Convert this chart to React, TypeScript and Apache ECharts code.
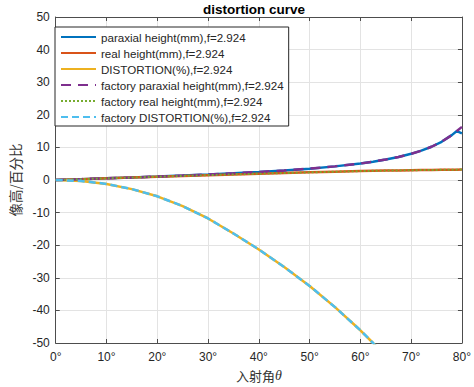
import React, { useEffect, useRef } from "react";
import * as echarts from "echarts";

// incidence angle (degrees)
const angles = [0, 5, 10, 15, 20, 25, 30, 35, 40, 45, 50, 55, 60, 62.5, 65, 67.5, 70, 72, 74, 76, 78, 79, 80];
// paraxial height (mm)
const paraxialHeight = [0, 0.26, 0.52, 0.78, 1.06, 1.36, 1.69, 2.05, 2.45, 2.92, 3.48, 4.18, 5.06, 5.62, 6.27, 7.06, 8.03, 9.0, 10.2, 11.73, 13.76, 15.0, 14.3];
// real height (mm)
const realHeight = [0, 0.26, 0.51, 0.76, 1.01, 1.25, 1.49, 1.71, 1.93, 2.14, 2.35, 2.55, 2.73, 2.81, 2.88, 2.94, 3.0, 3.04, 3.08, 3.12, 3.16, 3.18, 3.2];
// distortion (%)
const distortion = [0, -0.3, -1.2, -2.8, -5.0, -8.0, -11.8, -16.4, -21.3, -26.7, -32.5, -39.0, -46.1, -50.0, -54.1, -58.4, -62.7, -66.2, -69.8, -73.4, -77.0, -78.8, -80.5];
// factory data
const factoryParaxial = [0, 0.26, 0.52, 0.78, 1.06, 1.36, 1.69, 2.05, 2.45, 2.92, 3.48, 4.18, 5.06, 5.62, 6.27, 7.06, 8.03, 9.0, 10.2, 11.73, 13.76, 15.04, 16.3];
const factoryReal = [0, 0.26, 0.51, 0.76, 1.01, 1.25, 1.49, 1.71, 1.93, 2.14, 2.35, 2.55, 2.73, 2.81, 2.88, 2.94, 3.0, 3.04, 3.08, 3.12, 3.16, 3.18, 3.2];
const factoryDistortion = [0, -0.3, -1.2, -2.8, -5.0, -8.0, -11.8, -16.4, -21.3, -26.7, -32.5, -39.0, -46.1, -50.0, -54.1, -58.4, -62.7, -66.2, -69.8, -73.4, -77.0, -78.8, -80.5];

const seriesNames = [
  "paraxial height(mm),f=2.924",
  "real height(mm),f=2.924",
  "DISTORTION(%),f=2.924",
  "factory paraxial height(mm),f=2.924",
  "factory real height(mm),f=2.924",
  "factory DISTORTION(%),f=2.924",
];

const FONT = "'Liberation Sans', Arial, sans-serif";
const AX = "#4d4d4d";
const GRID = "#e3e3e3";

export default function App() {
  const ref = useRef<HTMLDivElement>(null);
  useEffect(() => {
    if (!ref.current) return;
    const chart = echarts.init(ref.current, null, { renderer: "svg" });
    const pair = (vals: number[]) => angles.map((a, i) => [a, vals[i]]);
    const mk = (name: string, vals: number[], color: string, width: number, type: any) => ({
      name,
      type: "line",
      data: pair(vals),
      symbol: "none",
      smooth: false,
      clip: true,
      lineStyle: { color, width, type, cap: "butt" },
      itemStyle: { color },
    });
    const baseAxis = {
      type: "value",
      axisLine: { show: true, onZero: false, lineStyle: { color: AX, width: 1 } },
      axisTick: { show: true, inside: true, length: 4, lineStyle: { color: AX } },
    };
    chart.setOption({
      animation: false,
      backgroundColor: "#ffffff",
      title: {
        text: "distortion curve",
        left: 254,
        textAlign: "center",
        top: 2,
        padding: 0,
        textStyle: { fontFamily: FONT, fontSize: 13.5, fontWeight: "bold", color: "#000" },
      },
      legend: {
        orient: "vertical",
        left: 55,
        top: 27,
        padding: [3, 5, 2, 5],
        itemWidth: 35,
        itemHeight: 14,
        itemGap: 2,
        backgroundColor: "#ffffff",
        borderColor: "#262626",
        borderWidth: 1,
        borderRadius: 0,
        itemStyle: { opacity: 0 },
        textStyle: { fontFamily: FONT, fontSize: 11.6, color: "#262626", lineHeight: 14 },
        data: seriesNames,
      },
      grid: { left: 45, right: 11, top: 17, bottom: 41, containLabel: false },
      xAxis: [
        {
          ...baseAxis,
          position: "bottom",
          min: 0,
          max: 80,
          interval: 10,
          axisLabel: { formatter: (v: number) => `${v}°`, fontFamily: FONT, fontSize: 12, color: "#262626", margin: 8 },
          splitLine: { show: true, lineStyle: { color: GRID, width: 1 } },
          name: "{a|入射角}{b|θ}",
          nameLocation: "middle",
          nameGap: 25,
          nameTextStyle: {
            rich: {
              a: { fontFamily: "'Noto Sans CJK SC'", fontSize: 13, color: "#333" },
              b: { fontFamily: "'Liberation Serif', serif", fontStyle: "italic", fontSize: 14, color: "#333" },
            },
          },
        },
        {
          ...baseAxis,
          position: "top",
          min: 0,
          max: 80,
          interval: 10,
          axisLabel: { show: false },
          splitLine: { show: false },
        },
      ],
      yAxis: [
        {
          ...baseAxis,
          position: "left",
          min: -50,
          max: 50,
          interval: 10,
          axisLabel: { fontFamily: FONT, fontSize: 12, color: "#262626", margin: 6 },
          splitLine: { show: true, lineStyle: { color: GRID, width: 1 } },
          name: "像高/百分比",
          nameLocation: "middle",
          nameGap: 26,
          nameRotate: 90,
          nameTextStyle: { fontFamily: "'Noto Sans CJK SC'", fontSize: 13.5, color: "#333" },
        },
        {
          ...baseAxis,
          position: "right",
          min: -50,
          max: 50,
          interval: 10,
          axisLabel: { show: false },
          splitLine: { show: false },
        },
      ],
      series: [
        mk(seriesNames[0], paraxialHeight, "#0072BD", 2.5, "solid"),
        mk(seriesNames[1], realHeight, "#D95319", 2.5, "solid"),
        mk(seriesNames[2], distortion, "#EDB120", 2.5, "solid"),
        mk(seriesNames[3], factoryParaxial, "#7E2F8E", 2.5, [10, 7]),
        mk(seriesNames[4], factoryReal, "#77AC30", 2, [2, 2]),
        mk(seriesNames[5], factoryDistortion, "#4DBEEE", 2.5, [7, 4]),
      ],
    });
    return () => chart.dispose();
  }, []);
  return (
    <div
      ref={ref}
      style={{ position: "fixed", left: 0, top: 0, width: 474, height: 387, background: "#fff" }}
    />
  );
}
